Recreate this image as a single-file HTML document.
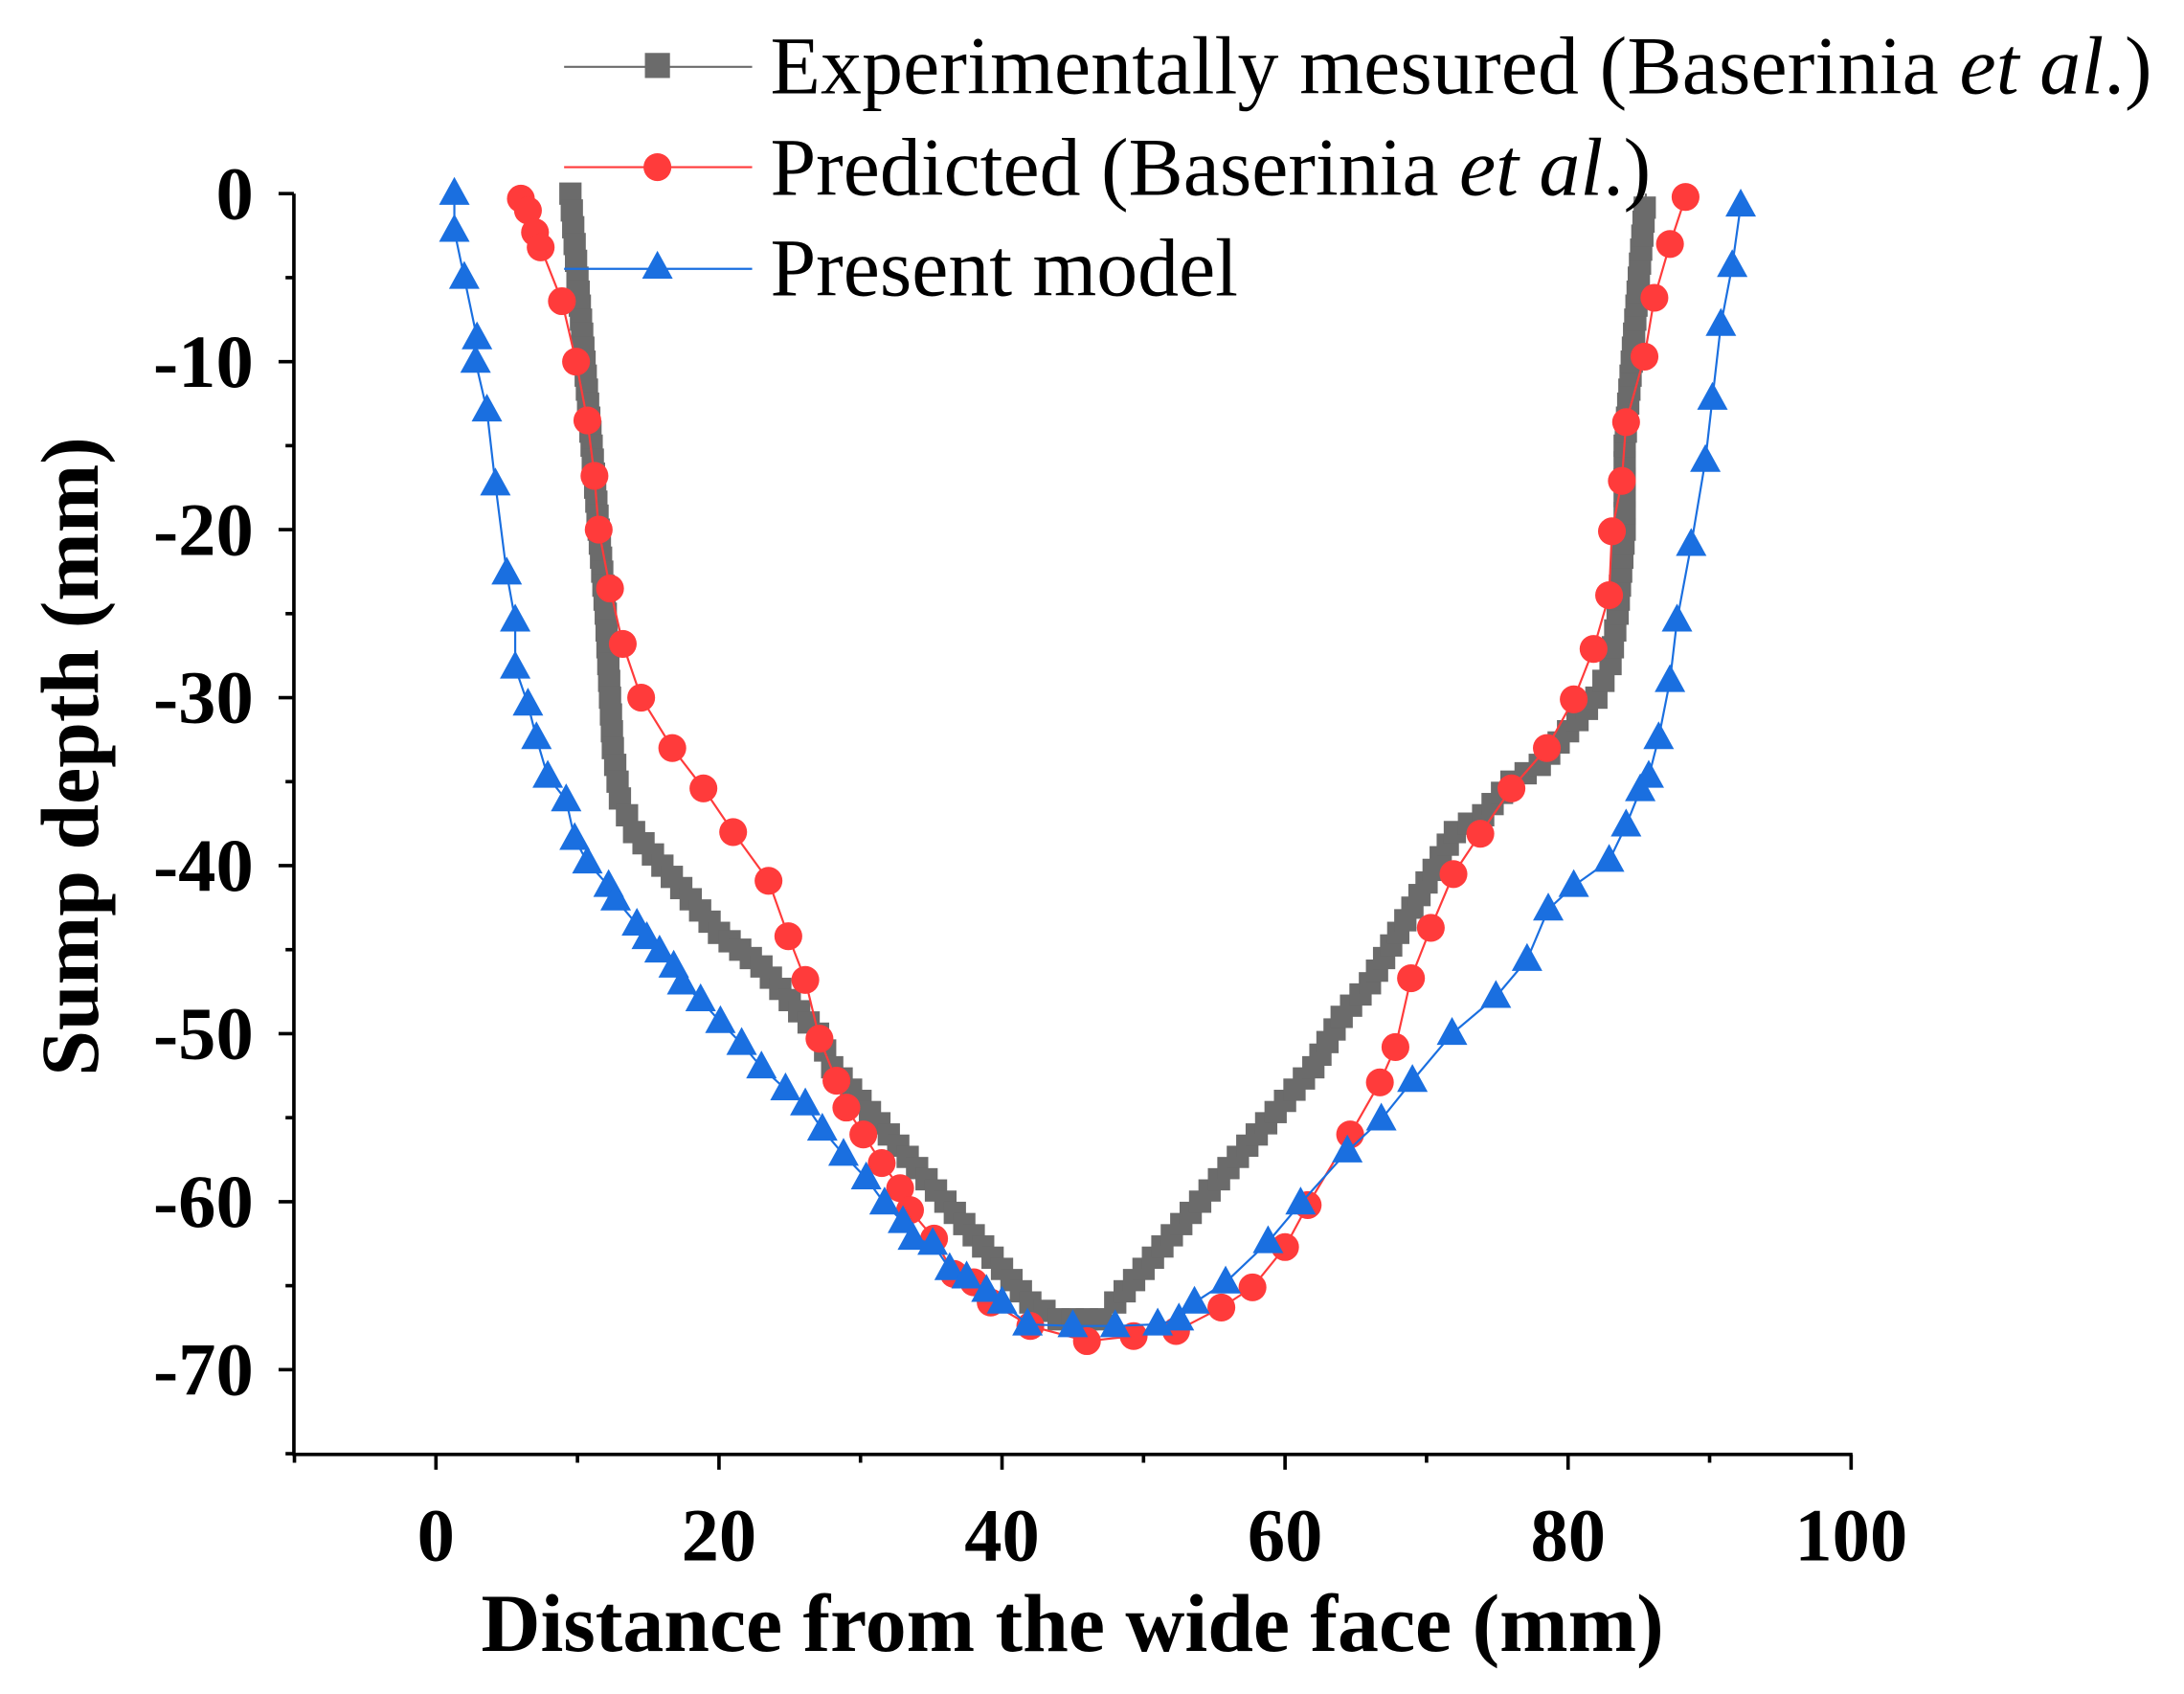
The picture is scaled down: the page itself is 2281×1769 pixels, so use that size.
<!DOCTYPE html>
<html><head><meta charset="utf-8"><style>
html,body{margin:0;padding:0;background:#fff;}
svg{display:block;}
text{font-family:"Liberation Serif",serif;}
</style></head><body>
<svg id="s" width="2281" height="1769" viewBox="0 0 1568 1216" preserveAspectRatio="none" xmlns="http://www.w3.org/2000/svg">
<g id="axes" stroke="#000" stroke-width="2.5" fill="none">
<line x1="211" y1="139" x2="211" y2="1045"/>
<line x1="210" y1="1044" x2="1330" y2="1044"/>
</g>
<g id="ticks" stroke="#000" stroke-width="2.5"></g>
<g font-weight="bold" font-size="54" text-anchor="end" id="ylab"></g>
<g font-weight="bold" font-size="54" text-anchor="middle" id="xlab"></g>
<text x="770" y="1185" font-size="59" font-weight="bold" text-anchor="middle">Distance from the wide face (mm)</text>
<text transform="translate(70,543) rotate(-90)" font-size="59" font-weight="bold" text-anchor="middle">Sump depth (mm)</text>
<g id="data"></g>
<g id="legend" font-size="59">
<line x1="405" y1="48" x2="540" y2="48" stroke="#6b6b6b" stroke-width="1.5"/>
<rect x="463" y="38" width="18" height="18" fill="#6b6b6b"/>
<text x="553" y="67" textLength="992">Experimentally mesured (Baserinia <tspan font-style="italic">et al</tspan>.)</text>
<line x1="405" y1="120" x2="540" y2="120" stroke="#ff3b3b" stroke-width="1.5"/>
<circle cx="472" cy="120" r="10" fill="#ff3b3b"/>
<text x="553" y="140">Predicted (Baserinia <tspan font-style="italic">et al</tspan>.)</text>
<line x1="405" y1="193" x2="540" y2="193" stroke="#1a6fe0" stroke-width="1.5"/>
<polygon points="472,180 483,200 461,200" fill="#1a6fe0"/>
<text x="553" y="212">Present model</text>
</g>
</svg>
<script>
const NS="http://www.w3.org/2000/svg";
const X=v=>313+v*10.16, Y=v=>139-v*12.06;
function el(p,t,a,txt){const e=document.createElementNS(NS,t);for(const k in a)e.setAttribute(k,a[k]);if(txt!==undefined)e.textContent=txt;p.appendChild(e);return e;}
const tk=document.getElementById('ticks'),yl=document.getElementById('ylab'),xl=document.getElementById('xlab');
for(let v=0;v>=-75;v-=5){const maj=v%10===0;el(tk,'line',{x1:211,x2:maj?200:205,y1:Y(v),y2:Y(v)});if(maj)el(yl,'text',{x:182,y:Y(v)+18},String(v));}
for(let v=-10;v<=100;v+=10){const maj=v%20===0;el(tk,'line',{x1:X(v),x2:X(v),y1:1044,y2:maj?1055:1050});if(maj)el(xl,'text',{x:X(v),y:1120},String(v));}
const d=document.getElementById('data');
const g=[[9.5,0],[9.7,-2],[10,-5],[10.5,-10],[11,-15],[11.5,-20],[12,-25],[12.3,-30],[12.5,-33],[13,-36],[14,-38],[16,-40],[18,-42],[20,-44],[23,-46],[25,-48],[27,-50],[28,-52],[30,-54],[32,-56],[34,-58],[36,-60],[38,-62],[40,-64],[42,-66],[44,-67],[46,-67],[47,-67],[48,-66],[50,-64],[52,-62],[54,-60],[56,-58],[58,-56],[60,-54],[62,-52],[64,-49],[66,-47],[68,-44],[70,-41],[72,-38],[74,-37],[76,-35],[78,-34],[80,-32],[82,-30],[83,-28],[83.5,-25],[84,-20],[84,-15],[84.5,-10],[85,-5],[85.5,0]];
const r=[[6,-0.3],[6.5,-1],[7,-2.3],[7.4,-3.2],[8.9,-6.4],[9.9,-10],[10.7,-13.5],[11.2,-16.8],[11.5,-20],[12.3,-23.5],[13.2,-26.8],[14.5,-30],[16.7,-33],[18.9,-35.4],[21,-38],[23.5,-40.9],[24.9,-44.2],[26.1,-46.8],[27.1,-50.3],[28.3,-52.8],[29,-54.4],[30.2,-56],[31.5,-57.7],[32.8,-59.2],[33.5,-60.5],[35.2,-62.2],[36.6,-64.3],[38,-64.8],[39.2,-66],[42,-67.4],[46,-68.3],[49.3,-68],[52.3,-67.7],[55.5,-66.3],[57.7,-65.1],[60,-62.7],[61.6,-60.2],[64.6,-56],[66.7,-52.9],[67.8,-50.8],[68.9,-46.7],[70.3,-43.7],[71.9,-40.5],[73.8,-38.1],[76,-35.4],[78.5,-33],[80.4,-30.1],[81.8,-27.1],[82.9,-23.9],[83.1,-20.1],[83.8,-17.1],[84.1,-13.6],[85.4,-9.7],[86.1,-6.2],[87.2,-3],[88.3,-0.2]];
const b=[[1.3,0],[1.3,-2.2],[2,-5],[2.9,-8.6],[2.8,-10],[3.6,-12.9],[4.2,-17.3],[5,-22.6],[5.6,-25.4],[5.6,-28.2],[6.5,-30.4],[7.1,-32.4],[7.9,-34.7],[9.2,-36.1],[9.8,-38.4],[10.7,-39.8],[12.2,-41.2],[12.7,-42],[14.2,-43.5],[14.9,-44.3],[15.8,-45.1],[16.8,-46],[17.4,-47],[18.7,-48],[20.1,-49.3],[21.6,-50.6],[23,-52],[24.7,-53.3],[26.1,-54.2],[27.3,-55.7],[28.8,-57.2],[30.4,-58.6],[31.7,-60.1],[33,-61.2],[33.7,-62.2],[35.1,-62.5],[36.3,-64],[37.5,-64.5],[38.9,-65.3],[40,-66],[41.8,-67.3],[45,-67.4],[48,-67.4],[51,-67.3],[52.5,-67],[53.6,-66],[55.8,-64.8],[58.8,-62.4],[61.1,-60.1],[64.4,-57],[66.8,-55.1],[69,-52.8],[71.8,-50],[74.9,-47.8],[77.1,-45.6],[78.6,-42.6],[80.4,-41.2],[82.9,-39.7],[84.1,-37.6],[85.1,-35.5],[85.7,-34.7],[86.4,-32.4],[87.2,-29],[87.7,-25.4],[88.7,-20.9],[89.7,-15.9],[90.2,-12.2],[90.8,-7.8],[91.6,-4.3],[92.2,-0.7]];
function line(pts,c){el(d,'polyline',{points:pts.map(p=>X(p[0])+','+Y(p[1])).join(' '),fill:'none',stroke:c,'stroke-width':1.5});}
line(g,'#6b6b6b');
for(let i=0;i<g.length-1;i++){const x1=X(g[i][0]),y1=Y(g[i][1]),x2=X(g[i+1][0]),y2=Y(g[i+1][1]);const L=Math.hypot(x2-x1,y2-y1);const n=Math.max(1,Math.round(L/11));for(let k=0;k<n;k++){const t=k/n;el(d,'rect',{x:x1+(x2-x1)*t-8,y:y1+(y2-y1)*t-8,width:16,height:16,fill:'#6b6b6b'});}}
line(r,'#ff3b3b');
r.forEach(p=>el(d,'circle',{cx:X(p[0]),cy:Y(p[1]),r:10,fill:'#ff3b3b'}));
line(b,'#1a6fe0');
b.forEach(p=>{const x=X(p[0]),y=Y(p[1]);el(d,'polygon',{points:`${x},${y-12} ${x+11},${y+8} ${x-11},${y+8}`,fill:'#1a6fe0'});});
</script>
</body></html>
